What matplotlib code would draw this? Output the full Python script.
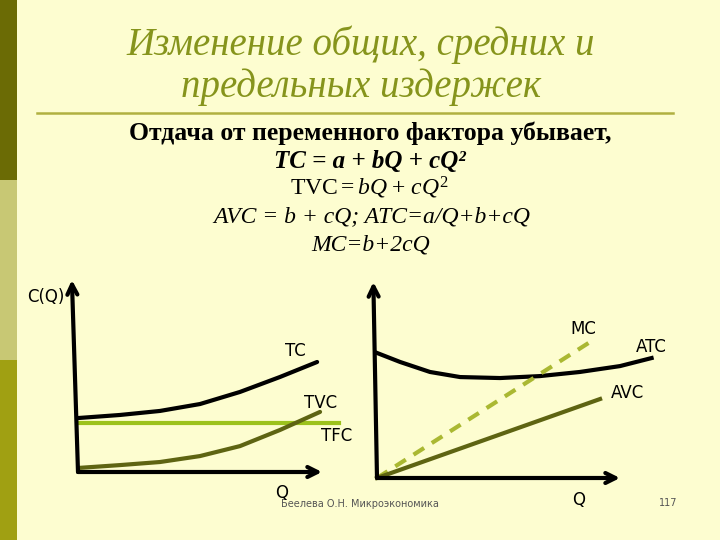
import matplotlib
matplotlib.use("Agg")
import matplotlib.pyplot as plt
from matplotlib.patches import Rectangle

plt.rcParams['mathtext.fontset'] = 'custom'
plt.rcParams['mathtext.rm'] = 'Liberation Serif'
plt.rcParams['mathtext.it'] = 'Liberation Serif:italic'
plt.rcParams['mathtext.bf'] = 'Liberation Serif:bold'

# slide texts
title_lines = ["Изменение общих, средних и", "предельных издержек"]
subtitle = "Отдача от переменного фактора убывает,"
footer = "Беелева О.Н. Микроэкономика"
page_no = "117"

# left chart: total costs
q_tc = [0, 1.72, 3.36, 5.0, 6.64, 8.28, 9.8]
tc = [2.81, 2.97, 3.18, 3.54, 4.17, 4.95, 5.73]
q_tvc = [0, 1.72, 3.36, 5.0, 6.64, 8.28, 9.92]
tvc = [0.21, 0.36, 0.52, 0.83, 1.35, 2.19, 3.13]
q_tfc = [0, 10.7]
tfc = [2.55, 2.55]

# right chart: average and marginal costs
q_atc = [0, 0.95, 2.18, 3.42, 5.06, 6.71, 8.35, 10.0, 11.3]
atc = [6.38, 5.92, 5.41, 5.15, 5.10, 5.20, 5.41, 5.71, 6.12]
q_mc = [0, 8.77]
mc = [0, 6.94]
q_avc = [0, 9.18]
avc = [0, 4.03]

W, H = 720, 540
bg = '#fdfdd0'
olive_title = '#86941c'

fig = plt.figure(figsize=(7.2, 5.4), dpi=100, facecolor=bg)
base = fig.add_axes([0, 0, 1, 1])
base.set_xlim(0, W)
base.set_ylim(H, 0)
base.axis('off')
base.set_facecolor(bg)

# side strip
base.add_patch(Rectangle((0, 0), 17, 180, color='#6b6b05', lw=0))
base.add_patch(Rectangle((0, 180), 17, 180, color='#c8c874', lw=0))
base.add_patch(Rectangle((0, 360), 17, 180, color='#a0a012', lw=0))

base.text(361, 45, title_lines[0], ha='center', va='center', fontsize=28,
          family='Liberation Serif', style='italic', color=olive_title)
base.text(361, 87, title_lines[1], ha='center', va='center', fontsize=28,
          family='Liberation Serif', style='italic', color=olive_title)
base.plot([37, 673], [113, 113], color='#b0b040', lw=1.8)

base.text(370, 133, subtitle, ha='center', va='center', fontsize=18.5,
          family='Liberation Serif', weight='bold', color='black')
base.text(370, 162, "TC = a + bQ + cQ²", ha='center', va='center', fontsize=18,
          family='Liberation Serif', weight='bold', style='italic', color='black')
base.text(370, 188, r"$\mathrm{TVC{=}}bQ\ \mathrm{+}\ cQ^2$", ha='center', va='center',
          fontsize=17, color='black')
base.text(372, 217, "AVC = b + cQ; ATC=a/Q+b+cQ", ha='center', va='center', fontsize=17,
          family='Liberation Serif', style='italic', color='black')
base.text(371, 245, "MC=b+2cQ", ha='center', va='center', fontsize=17,
          family='Liberation Serif', style='italic', color='black')

base.text(360, 504, footer, ha='center', va='center', fontsize=7, color='#555555')
base.text(668, 503, page_no, ha='center', va='center', fontsize=7, color='#555555')


def chart_axes(x0, y0, x1, y1):
    ax = fig.add_axes([x0 / W, 1 - y0 / H, (x1 - x0) / W, (y0 - y1) / H])
    ax.set_xlim(0, 10)
    ax.set_ylim(0, 10)
    ax.axis('off')
    ax.patch.set_alpha(0)
    return ax


def draw_axes(ax, tilt):
    arrow = dict(arrowstyle='->', lw=3, color='black', mutation_scale=18,
                 shrinkA=0, shrinkB=0)
    ax.annotate('', xy=(10, 0), xytext=(0, 0), arrowprops=arrow, annotation_clip=False)
    ax.annotate('', xy=(tilt, 10), xytext=(0, 0), arrowprops=arrow, annotation_clip=False)


# left chart
axl = chart_axes(78, 472, 322, 280)
draw_axes(axl, -0.25)
axl.plot(q_tfc, tfc, color='#9cc21c', lw=3, clip_on=False)
axl.plot(q_tc, tc, color='black', lw=3, clip_on=False, solid_capstyle='round')
axl.plot(q_tvc, tvc, color='#5e6412', lw=3, clip_on=False, solid_capstyle='round')
axl.text(-1.3, 9.1, "C(Q)", ha='center', va='center', fontsize=12)
axl.text(8.9, 6.3, "TC", ha='center', va='center', fontsize=12)
axl.text(9.95, 3.6, "TVC", ha='center', va='center', fontsize=12)
axl.text(10.6, 1.85, "TFC", ha='center', va='center', fontsize=12)
axl.text(8.35, -1.1, "Q", ha='center', va='center', fontsize=12)

# right chart
axr = chart_axes(377, 478, 620, 282)
draw_axes(axr, -0.15)
axr.plot(q_atc, atc, color='black', lw=3, clip_on=False)
axr.plot(q_mc, mc, color='#aab832', lw=3, ls=(0, (3, 2.2)), clip_on=False)
axr.plot(q_avc, avc, color='#5e6412', lw=3, clip_on=False)
axr.text(8.5, 7.6, "MC", ha='center', va='center', fontsize=12)
axr.text(11.3, 6.7, "ATC", ha='center', va='center', fontsize=12)
axr.text(10.3, 4.35, "AVC", ha='center', va='center', fontsize=12)
axr.text(8.3, -1.1, "Q", ha='center', va='center', fontsize=12)

fig.savefig('out.png', dpi=100, facecolor=bg)
